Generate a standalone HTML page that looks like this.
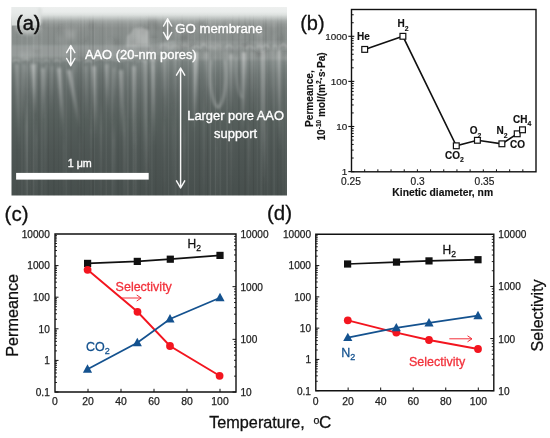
<!DOCTYPE html><html><head><meta charset="utf-8"><style>html,body{margin:0;padding:0;background:#fff;}body{width:550px;height:438px;overflow:hidden;} svg{display:block}</style></head><body>
<svg width="550" height="438" viewBox="0 0 550 438">
<rect width="550" height="438" fill="#fff"/>
<defs>
<linearGradient id="semg" x1="0" y1="7" x2="0" y2="195.5" gradientUnits="userSpaceOnUse">
<stop offset="0.0000" stop-color="#eef0ef"/>
<stop offset="0.0265" stop-color="#e9eceb"/>
<stop offset="0.0424" stop-color="#dce0de"/>
<stop offset="0.0584" stop-color="#c0c5c3"/>
<stop offset="0.0743" stop-color="#a3a8a6"/>
<stop offset="0.0902" stop-color="#939896"/>
<stop offset="0.1114" stop-color="#8a8f8d"/>
<stop offset="0.1751" stop-color="#878d8b"/>
<stop offset="0.2706" stop-color="#8a908e"/>
<stop offset="0.2918" stop-color="#78807e"/>
<stop offset="0.3607" stop-color="#6a7270"/>
<stop offset="0.4668" stop-color="#5e6664"/>
<stop offset="0.5995" stop-color="#555e5b"/>
<stop offset="0.7586" stop-color="#4e5654"/>
<stop offset="0.9973" stop-color="#474f4d"/>
</linearGradient>
<filter id="bl06" x="-50%" y="-10%" width="200%" height="120%"><feGaussianBlur stdDeviation="0.6"/></filter>
<filter id="bl1" x="-50%" y="-10%" width="200%" height="120%"><feGaussianBlur stdDeviation="1.1"/></filter>
<filter id="bl2" x="-50%" y="-50%" width="200%" height="200%"><feGaussianBlur stdDeviation="2"/></filter>
<filter id="bl15" x="-50%" y="-10%" width="200%" height="120%"><feGaussianBlur stdDeviation="1.5"/></filter>
<linearGradient id="wall" x1="0" y1="0" x2="0" y2="1"><stop offset="0" stop-color="#fff" stop-opacity="0.9"/><stop offset="0.5" stop-color="#fff" stop-opacity="0.55"/><stop offset="1" stop-color="#fff" stop-opacity="0"/></linearGradient>
<linearGradient id="strk" x1="0" y1="0" x2="0" y2="1"><stop offset="0" stop-color="#fff" stop-opacity="0"/><stop offset="0.3" stop-color="#fff" stop-opacity="1"/><stop offset="1" stop-color="#fff" stop-opacity="0.3"/></linearGradient>
<linearGradient id="abox" x1="0" y1="0" x2="0" y2="1"><stop offset="0" stop-color="#eef0ef"/><stop offset="0.5" stop-color="#e6e9e8"/><stop offset="1" stop-color="#d6dad8"/></linearGradient>
<linearGradient id="fw" x1="0" y1="14" x2="0" y2="26" gradientUnits="userSpaceOnUse"><stop offset="0" stop-color="#fff" stop-opacity="0"/><stop offset="1" stop-color="#fff"/></linearGradient>
<linearGradient id="fb" x1="0" y1="14" x2="0" y2="26" gradientUnits="userSpaceOnUse"><stop offset="0" stop-color="#000" stop-opacity="0"/><stop offset="1" stop-color="#000"/></linearGradient>
<clipPath id="semclip"><rect x="11.5" y="7" width="275.5" height="188.5"/></clipPath>
</defs>
<rect x="11.5" y="7" width="275.5" height="188.5" fill="url(#semg)"/>
<g clip-path="url(#semclip)">
<g filter="url(#bl2)">
<ellipse cx="136.1" cy="42.2" rx="5.7" ry="3.4" fill="#000" opacity="0.08"/>
<ellipse cx="62.4" cy="40.4" rx="4.5" ry="4.4" fill="#fff" opacity="0.06"/>
<ellipse cx="36.5" cy="51.1" rx="4.8" ry="2.1" fill="#000" opacity="0.10"/>
<ellipse cx="191.7" cy="44.2" rx="2.6" ry="2.0" fill="#000" opacity="0.04"/>
<ellipse cx="63.9" cy="30.7" rx="2.1" ry="3.4" fill="#fff" opacity="0.09"/>
<ellipse cx="154.5" cy="45.1" rx="4.0" ry="4.0" fill="#fff" opacity="0.06"/>
<ellipse cx="286.4" cy="57.8" rx="5.4" ry="4.1" fill="#fff" opacity="0.05"/>
<ellipse cx="91.1" cy="24.5" rx="5.1" ry="3.2" fill="#000" opacity="0.06"/>
<ellipse cx="275.4" cy="52.5" rx="2.0" ry="2.6" fill="#000" opacity="0.07"/>
<ellipse cx="281.6" cy="36.3" rx="2.3" ry="3.9" fill="#000" opacity="0.06"/>
<ellipse cx="35.5" cy="34.0" rx="5.9" ry="4.3" fill="#fff" opacity="0.05"/>
<ellipse cx="39.3" cy="24.2" rx="5.2" ry="2.5" fill="#000" opacity="0.07"/>
<ellipse cx="64.0" cy="48.3" rx="2.5" ry="3.9" fill="#fff" opacity="0.07"/>
<ellipse cx="70.1" cy="31.7" rx="5.9" ry="4.4" fill="#fff" opacity="0.09"/>
<ellipse cx="69.6" cy="36.2" rx="5.4" ry="3.9" fill="#fff" opacity="0.10"/>
<ellipse cx="70.2" cy="31.3" rx="5.1" ry="3.0" fill="#fff" opacity="0.04"/>
<ellipse cx="36.3" cy="43.0" rx="3.0" ry="3.8" fill="#fff" opacity="0.07"/>
<ellipse cx="275.7" cy="39.4" rx="4.3" ry="4.6" fill="#fff" opacity="0.05"/>
<ellipse cx="261.8" cy="51.4" rx="3.0" ry="2.6" fill="#000" opacity="0.10"/>
<ellipse cx="65.7" cy="56.2" rx="5.5" ry="3.8" fill="#fff" opacity="0.05"/>
<ellipse cx="22.2" cy="56.7" rx="3.0" ry="4.1" fill="#fff" opacity="0.09"/>
<ellipse cx="175.8" cy="32.6" rx="2.7" ry="4.2" fill="#fff" opacity="0.05"/>
<ellipse cx="165.6" cy="52.7" rx="4.5" ry="2.8" fill="#000" opacity="0.05"/>
<ellipse cx="16.1" cy="31.7" rx="3.8" ry="2.2" fill="#fff" opacity="0.06"/>
<ellipse cx="169.1" cy="26.7" rx="3.4" ry="4.7" fill="#000" opacity="0.08"/>
<ellipse cx="201.9" cy="43.0" rx="2.6" ry="2.1" fill="#fff" opacity="0.09"/>
<ellipse cx="204.6" cy="56.7" rx="2.1" ry="3.9" fill="#fff" opacity="0.08"/>
<ellipse cx="99.4" cy="58.0" rx="2.3" ry="3.6" fill="#000" opacity="0.09"/>
<ellipse cx="214.6" cy="47.3" rx="5.2" ry="4.7" fill="#fff" opacity="0.08"/>
<ellipse cx="259.7" cy="53.4" rx="3.7" ry="4.4" fill="#000" opacity="0.07"/>
<ellipse cx="183.7" cy="35.8" rx="4.3" ry="3.8" fill="#fff" opacity="0.08"/>
<ellipse cx="285.2" cy="53.7" rx="4.9" ry="3.2" fill="#000" opacity="0.07"/>
<ellipse cx="132.9" cy="52.2" rx="2.3" ry="4.3" fill="#fff" opacity="0.08"/>
<ellipse cx="144.0" cy="30.3" rx="4.8" ry="3.5" fill="#000" opacity="0.10"/>
<ellipse cx="82.0" cy="22.4" rx="3.2" ry="4.0" fill="#fff" opacity="0.05"/>
<ellipse cx="261.0" cy="45.8" rx="3.8" ry="4.7" fill="#fff" opacity="0.08"/>
<ellipse cx="66.2" cy="37.5" rx="5.2" ry="4.7" fill="#000" opacity="0.06"/>
<ellipse cx="172.1" cy="33.4" rx="2.5" ry="3.5" fill="#000" opacity="0.09"/>
<ellipse cx="207.4" cy="56.2" rx="3.1" ry="2.5" fill="#fff" opacity="0.06"/>
<ellipse cx="70.5" cy="36.9" rx="4.5" ry="3.5" fill="#fff" opacity="0.09"/>
<ellipse cx="282.1" cy="38.3" rx="2.3" ry="2.1" fill="#000" opacity="0.04"/>
<ellipse cx="206.7" cy="42.5" rx="3.2" ry="4.4" fill="#fff" opacity="0.05"/>
<ellipse cx="136.8" cy="22.9" rx="5.3" ry="2.7" fill="#fff" opacity="0.04"/>
<ellipse cx="184.8" cy="38.1" rx="4.5" ry="4.0" fill="#000" opacity="0.10"/>
<ellipse cx="200.1" cy="29.2" rx="3.9" ry="2.5" fill="#fff" opacity="0.07"/>
<ellipse cx="208.3" cy="28.4" rx="3.1" ry="3.0" fill="#000" opacity="0.07"/>
<ellipse cx="180.8" cy="49.2" rx="3.6" ry="4.4" fill="#000" opacity="0.05"/>
<ellipse cx="268.4" cy="48.0" rx="2.5" ry="3.4" fill="#000" opacity="0.09"/>
<ellipse cx="115.3" cy="42.5" rx="5.5" ry="4.4" fill="#000" opacity="0.07"/>
<ellipse cx="190.9" cy="29.4" rx="4.9" ry="4.5" fill="#000" opacity="0.08"/>
<ellipse cx="70.3" cy="54.4" rx="5.9" ry="4.9" fill="#000" opacity="0.09"/>
<ellipse cx="99.8" cy="54.8" rx="5.4" ry="3.0" fill="#fff" opacity="0.07"/>
<ellipse cx="163.1" cy="49.7" rx="3.9" ry="2.1" fill="#000" opacity="0.04"/>
<ellipse cx="231.9" cy="28.2" rx="3.3" ry="4.4" fill="#fff" opacity="0.05"/>
<ellipse cx="153.8" cy="48.0" rx="5.4" ry="4.1" fill="#000" opacity="0.07"/>
<ellipse cx="273.0" cy="25.1" rx="2.9" ry="3.6" fill="#fff" opacity="0.08"/>
<ellipse cx="187.5" cy="40.8" rx="5.4" ry="3.7" fill="#fff" opacity="0.06"/>
<ellipse cx="244.4" cy="54.4" rx="2.8" ry="4.6" fill="#000" opacity="0.07"/>
<ellipse cx="169.4" cy="29.2" rx="4.1" ry="3.5" fill="#000" opacity="0.04"/>
<ellipse cx="278.6" cy="40.6" rx="3.6" ry="4.4" fill="#000" opacity="0.07"/>
<ellipse cx="201.9" cy="24.4" rx="4.2" ry="3.2" fill="#000" opacity="0.10"/>
<ellipse cx="85.7" cy="39.0" rx="2.5" ry="3.3" fill="#000" opacity="0.09"/>
<ellipse cx="142.8" cy="33.4" rx="2.8" ry="3.9" fill="#000" opacity="0.05"/>
<ellipse cx="226.2" cy="22.8" rx="2.8" ry="2.7" fill="#000" opacity="0.06"/>
<ellipse cx="109.4" cy="44.3" rx="2.4" ry="4.2" fill="#fff" opacity="0.07"/>
<ellipse cx="80.5" cy="29.1" rx="4.1" ry="3.3" fill="#fff" opacity="0.06"/>
<ellipse cx="157.3" cy="27.8" rx="2.8" ry="3.9" fill="#000" opacity="0.07"/>
<ellipse cx="246.0" cy="44.0" rx="5.4" ry="2.7" fill="#000" opacity="0.09"/>
<ellipse cx="260.2" cy="33.4" rx="3.3" ry="4.8" fill="#fff" opacity="0.10"/>
<ellipse cx="256.0" cy="26.8" rx="3.0" ry="4.2" fill="#fff" opacity="0.05"/>
<ellipse cx="240.8" cy="37.2" rx="5.2" ry="2.4" fill="#fff" opacity="0.08"/>
<ellipse cx="16.4" cy="29.2" rx="4.7" ry="4.7" fill="#000" opacity="0.05"/>
<ellipse cx="150.8" cy="49.3" rx="4.0" ry="4.1" fill="#fff" opacity="0.04"/>
<ellipse cx="40.8" cy="23.3" rx="4.2" ry="3.5" fill="#000" opacity="0.05"/>
<ellipse cx="62.3" cy="29.3" rx="5.4" ry="5.0" fill="#000" opacity="0.05"/>
<ellipse cx="28.6" cy="56.3" rx="3.8" ry="4.3" fill="#fff" opacity="0.07"/>
<ellipse cx="153.5" cy="37.5" rx="4.4" ry="2.0" fill="#000" opacity="0.09"/>
<ellipse cx="61.4" cy="38.3" rx="5.0" ry="3.2" fill="#fff" opacity="0.05"/>
<ellipse cx="152.7" cy="22.6" rx="5.6" ry="4.4" fill="#000" opacity="0.09"/>
<ellipse cx="184.9" cy="36.6" rx="4.4" ry="3.5" fill="#000" opacity="0.09"/>
<ellipse cx="82.7" cy="54.8" rx="5.0" ry="4.3" fill="#000" opacity="0.06"/>
<ellipse cx="258.5" cy="53.7" rx="4.8" ry="4.3" fill="#000" opacity="0.06"/>
<ellipse cx="210.6" cy="24.5" rx="3.4" ry="3.4" fill="#fff" opacity="0.06"/>
<ellipse cx="187.5" cy="44.5" rx="2.9" ry="4.8" fill="#000" opacity="0.06"/>
<ellipse cx="193.3" cy="42.5" rx="4.1" ry="3.2" fill="#000" opacity="0.08"/>
<ellipse cx="204.7" cy="49.4" rx="5.9" ry="2.1" fill="#000" opacity="0.08"/>
<ellipse cx="82.2" cy="36.5" rx="2.2" ry="2.6" fill="#fff" opacity="0.05"/>
<ellipse cx="80.6" cy="54.6" rx="4.2" ry="3.5" fill="#000" opacity="0.07"/>
<ellipse cx="285.7" cy="45.0" rx="5.2" ry="2.2" fill="#000" opacity="0.09"/>
<ellipse cx="23.9" cy="55.5" rx="2.6" ry="3.4" fill="#fff" opacity="0.07"/>
</g>
<path d="M11,45 L150,45 L162,43 L175,40 L175,50 L150,57 L11,57 Z" fill="#b5bbba" opacity="0.3" filter="url(#bl1)"/>
<rect x="160" y="41" width="130" height="9" fill="#fff" opacity="0.07" filter="url(#bl1)"/>
<g filter="url(#bl06)">
<rect x="16.6" y="14" width="0.8" height="182" fill="url(#fb)" opacity="0.05"/>
<rect x="21.2" y="14" width="1.5" height="182" fill="url(#fw)" opacity="0.04"/>
<rect x="26.5" y="14" width="1.4" height="182" fill="url(#fw)" opacity="0.07"/>
<rect x="29.9" y="14" width="0.7" height="182" fill="url(#fw)" opacity="0.03"/>
<rect x="32.7" y="14" width="1.7" height="182" fill="url(#fw)" opacity="0.07"/>
<rect x="38.5" y="14" width="0.8" height="182" fill="url(#fb)" opacity="0.08"/>
<rect x="40.8" y="14" width="1.9" height="182" fill="url(#fw)" opacity="0.05"/>
<rect x="47.7" y="14" width="1.0" height="182" fill="url(#fb)" opacity="0.08"/>
<rect x="53.3" y="14" width="1.3" height="182" fill="url(#fb)" opacity="0.07"/>
<rect x="58.3" y="14" width="0.8" height="182" fill="url(#fb)" opacity="0.05"/>
<rect x="61.4" y="14" width="0.8" height="182" fill="url(#fb)" opacity="0.04"/>
<rect x="65.6" y="14" width="1.6" height="182" fill="url(#fw)" opacity="0.04"/>
<rect x="70.5" y="14" width="1.2" height="182" fill="url(#fb)" opacity="0.06"/>
<rect x="77.5" y="14" width="1.9" height="182" fill="url(#fb)" opacity="0.04"/>
<rect x="80.0" y="14" width="1.9" height="182" fill="url(#fb)" opacity="0.06"/>
<rect x="83.8" y="14" width="1.1" height="182" fill="url(#fb)" opacity="0.06"/>
<rect x="88.8" y="14" width="1.5" height="182" fill="url(#fb)" opacity="0.04"/>
<rect x="92.0" y="14" width="2.0" height="182" fill="url(#fb)" opacity="0.07"/>
<rect x="94.2" y="14" width="0.8" height="182" fill="url(#fw)" opacity="0.05"/>
<rect x="99.4" y="14" width="0.8" height="182" fill="url(#fb)" opacity="0.03"/>
<rect x="101.8" y="14" width="1.6" height="182" fill="url(#fb)" opacity="0.06"/>
<rect x="105.6" y="14" width="1.3" height="182" fill="url(#fw)" opacity="0.05"/>
<rect x="111.4" y="14" width="1.8" height="182" fill="url(#fw)" opacity="0.04"/>
<rect x="117.4" y="14" width="1.5" height="182" fill="url(#fb)" opacity="0.04"/>
<rect x="121.5" y="14" width="1.0" height="182" fill="url(#fb)" opacity="0.05"/>
<rect x="126.8" y="14" width="2.0" height="182" fill="url(#fw)" opacity="0.06"/>
<rect x="132.5" y="14" width="1.9" height="182" fill="url(#fw)" opacity="0.05"/>
<rect x="135.0" y="14" width="1.8" height="182" fill="url(#fw)" opacity="0.03"/>
<rect x="139.8" y="14" width="1.3" height="182" fill="url(#fb)" opacity="0.04"/>
<rect x="145.7" y="14" width="0.8" height="182" fill="url(#fw)" opacity="0.06"/>
<rect x="148.1" y="14" width="1.1" height="182" fill="url(#fb)" opacity="0.06"/>
<rect x="151.5" y="14" width="0.9" height="182" fill="url(#fw)" opacity="0.07"/>
<rect x="155.4" y="14" width="0.9" height="182" fill="url(#fb)" opacity="0.06"/>
<rect x="162.0" y="14" width="1.9" height="182" fill="url(#fb)" opacity="0.05"/>
<rect x="168.0" y="14" width="1.1" height="182" fill="url(#fw)" opacity="0.05"/>
<rect x="174.7" y="14" width="1.9" height="182" fill="url(#fw)" opacity="0.05"/>
<rect x="178.5" y="14" width="1.2" height="182" fill="url(#fw)" opacity="0.05"/>
<rect x="181.5" y="14" width="1.4" height="182" fill="url(#fb)" opacity="0.06"/>
<rect x="187.6" y="14" width="1.4" height="182" fill="url(#fw)" opacity="0.07"/>
<rect x="194.0" y="14" width="1.1" height="182" fill="url(#fw)" opacity="0.06"/>
<rect x="198.8" y="14" width="1.4" height="182" fill="url(#fb)" opacity="0.06"/>
<rect x="204.8" y="14" width="0.8" height="182" fill="url(#fb)" opacity="0.07"/>
<rect x="207.2" y="14" width="0.8" height="182" fill="url(#fb)" opacity="0.07"/>
<rect x="209.6" y="14" width="1.5" height="182" fill="url(#fw)" opacity="0.07"/>
<rect x="214.9" y="14" width="1.0" height="182" fill="url(#fw)" opacity="0.07"/>
<rect x="219.5" y="14" width="1.7" height="182" fill="url(#fw)" opacity="0.05"/>
<rect x="226.3" y="14" width="1.6" height="182" fill="url(#fw)" opacity="0.06"/>
<rect x="231.9" y="14" width="1.6" height="182" fill="url(#fb)" opacity="0.05"/>
<rect x="238.1" y="14" width="1.6" height="182" fill="url(#fb)" opacity="0.07"/>
<rect x="244.2" y="14" width="1.9" height="182" fill="url(#fb)" opacity="0.06"/>
<rect x="248.9" y="14" width="1.6" height="182" fill="url(#fb)" opacity="0.05"/>
<rect x="253.0" y="14" width="0.9" height="182" fill="url(#fb)" opacity="0.08"/>
<rect x="256.8" y="14" width="0.9" height="182" fill="url(#fw)" opacity="0.05"/>
<rect x="260.3" y="14" width="2.0" height="182" fill="url(#fw)" opacity="0.05"/>
<rect x="262.9" y="14" width="1.5" height="182" fill="url(#fb)" opacity="0.04"/>
<rect x="265.2" y="14" width="1.3" height="182" fill="url(#fb)" opacity="0.08"/>
<rect x="267.4" y="14" width="0.8" height="182" fill="url(#fw)" opacity="0.04"/>
<rect x="270.5" y="14" width="1.6" height="182" fill="url(#fb)" opacity="0.04"/>
<rect x="273.5" y="14" width="1.1" height="182" fill="url(#fw)" opacity="0.07"/>
<rect x="277.0" y="14" width="1.4" height="182" fill="url(#fb)" opacity="0.05"/>
<rect x="280.3" y="14" width="1.9" height="182" fill="url(#fb)" opacity="0.05"/>
<rect x="285.1" y="14" width="1.9" height="182" fill="url(#fw)" opacity="0.04"/>
<rect x="287.3" y="14" width="1.9" height="182" fill="url(#fb)" opacity="0.05"/>
</g>
<g filter="url(#bl1)">
<path d="M12.0,62.0 q4.1,-4.1 8.2,0" fill="none" stroke="#fff" stroke-width="1.5" opacity="0.30"/>
<path d="M22.8,61.0 q3.2,-4.9 6.4,0" fill="none" stroke="#fff" stroke-width="1.5" opacity="0.19"/>
<path d="M32.4,62.2 q4.6,-3.6 9.3,0" fill="none" stroke="#fff" stroke-width="1.5" opacity="0.15"/>
<path d="M43.0,62.7 q3.3,-5.1 6.6,0" fill="none" stroke="#fff" stroke-width="1.5" opacity="0.23"/>
<path d="M53.5,62.1 q3.3,-3.6 6.6,0" fill="none" stroke="#fff" stroke-width="1.5" opacity="0.26"/>
<path d="M60.1,62.7 q5.0,-6.3 9.9,0" fill="none" stroke="#fff" stroke-width="1.5" opacity="0.13"/>
<path d="M71.1,61.2 q4.6,-4.9 9.3,0" fill="none" stroke="#fff" stroke-width="1.5" opacity="0.20"/>
<path d="M84.2,62.7 q4.3,-4.2 8.5,0" fill="none" stroke="#fff" stroke-width="1.5" opacity="0.26"/>
<path d="M94.4,61.2 q5.3,-6.3 10.5,0" fill="none" stroke="#fff" stroke-width="1.5" opacity="0.16"/>
<path d="M107.1,61.3 q4.1,-6.3 8.2,0" fill="none" stroke="#fff" stroke-width="1.5" opacity="0.18"/>
<path d="M116.5,61.6 q2.7,-4.9 5.5,0" fill="none" stroke="#fff" stroke-width="1.5" opacity="0.25"/>
<path d="M123.4,61.2 q4.6,-4.6 9.1,0" fill="none" stroke="#fff" stroke-width="1.5" opacity="0.20"/>
<path d="M136.4,62.3 q5.0,-3.0 10.0,0" fill="none" stroke="#fff" stroke-width="1.5" opacity="0.19"/>
<path d="M149.2,62.1 q3.2,-4.8 6.4,0" fill="none" stroke="#fff" stroke-width="1.5" opacity="0.12"/>
<path d="M159.6,47.4 q4.9,-5.5 9.8,0" fill="none" stroke="#fff" stroke-width="1.5" opacity="0.17"/>
<path d="M170.9,47.6 q4.1,-4.3 8.2,0" fill="none" stroke="#fff" stroke-width="1.5" opacity="0.19"/>
<path d="M181.8,47.4 q3.3,-5.9 6.5,0" fill="none" stroke="#fff" stroke-width="1.5" opacity="0.18"/>
<path d="M192.1,48.4 q4.2,-4.3 8.4,0" fill="none" stroke="#fff" stroke-width="1.5" opacity="0.27"/>
<path d="M200.9,47.2 q2.9,-5.7 5.8,0" fill="none" stroke="#fff" stroke-width="1.5" opacity="0.25"/>
<path d="M207.4,48.7 q3.7,-5.4 7.4,0" fill="none" stroke="#fff" stroke-width="1.5" opacity="0.14"/>
<path d="M215.7,47.2 q3.0,-4.6 5.9,0" fill="none" stroke="#fff" stroke-width="1.5" opacity="0.13"/>
<path d="M225.4,48.0 q3.8,-5.6 7.6,0" fill="none" stroke="#fff" stroke-width="1.5" opacity="0.26"/>
<path d="M236.2,47.7 q3.7,-4.6 7.3,0" fill="none" stroke="#fff" stroke-width="1.5" opacity="0.12"/>
<path d="M245.1,49.0 q4.6,-6.2 9.2,0" fill="none" stroke="#fff" stroke-width="1.5" opacity="0.24"/>
<path d="M256.8,47.7 q2.6,-4.4 5.1,0" fill="none" stroke="#fff" stroke-width="1.5" opacity="0.24"/>
<path d="M262.3,48.0 q3.6,-6.2 7.3,0" fill="none" stroke="#fff" stroke-width="1.5" opacity="0.27"/>
<path d="M272.0,48.5 q3.0,-6.6 6.0,0" fill="none" stroke="#fff" stroke-width="1.5" opacity="0.22"/>
<path d="M279.4,47.3 q4.0,-5.9 8.0,0" fill="none" stroke="#fff" stroke-width="1.5" opacity="0.30"/>
</g>
<g filter="url(#bl15)">
<path d="M15.4,64 L18.6,64 L19.8,150 L18.2,150 Z" fill="url(#wall)" opacity="0.33"/>
<path d="M22.7,64 L25.3,64 L23.8,120 L22.2,120 Z" fill="url(#wall)" opacity="0.28"/>
<path d="M30.7,64 L35.3,64 L35.8,115 L34.2,115 Z" fill="url(#wall)" opacity="0.46"/>
<path d="M41.4,68 L44.6,68 L44.8,122 L43.2,122 Z" fill="url(#wall)" opacity="0.39"/>
<path d="M50.7,66 L53.3,66 L51.8,110 L50.2,110 Z" fill="url(#wall)" opacity="0.24"/>
<path d="M57.0,68 L61.0,68 L64.8,138 L63.2,138 Z" fill="url(#wall)" opacity="0.42"/>
<path d="M66.9,70 L71.1,70 L80.8,130 L79.2,130 Z" fill="url(#wall)" opacity="0.44"/>
<path d="M84.7,66 L87.3,66 L87.8,120 L86.2,120 Z" fill="url(#wall)" opacity="0.24"/>
<path d="M92.0,66 L96.0,66 L96.8,138 L95.2,138 Z" fill="url(#wall)" opacity="0.42"/>
<path d="M105.3,64 L108.7,64 L108.8,110 L107.2,110 Z" fill="url(#wall)" opacity="0.35"/>
<path d="M112.7,68 L115.3,68 L112.8,125 L111.2,125 Z" fill="url(#wall)" opacity="0.24"/>
<path d="M119.0,70 L123.0,70 L123.8,140 L122.2,140 Z" fill="url(#wall)" opacity="0.39"/>
<path d="M132.1,66 L135.9,66 L134.8,150 L133.2,150 Z" fill="url(#wall)" opacity="0.39"/>
<path d="M143.3,60 L146.7,60 L146.8,190 L145.2,190 Z" fill="url(#wall)" opacity="0.35"/>
<path d="M151.2,58 L154.8,58 L154.8,146 L153.2,146 Z" fill="url(#wall)" opacity="0.39"/>
<path d="M162.3,56 L165.7,56 L165.8,120 L164.2,120 Z" fill="url(#wall)" opacity="0.33"/>
<path d="M173.7,56 L176.3,56 L174.8,110 L173.2,110 Z" fill="url(#wall)" opacity="0.22"/>
<path d="M193.7,52 L198.3,52 L194.8,132 L193.2,132 Z" fill="url(#wall)" opacity="0.50"/>
<path d="M204.7,52 L207.3,52 L207.8,120 L206.2,120 Z" fill="url(#wall)" opacity="0.24"/>
<path d="M229.2,54 L232.8,54 L231.8,116 L230.2,116 Z" fill="url(#wall)" opacity="0.39"/>
<path d="M241.8,52 L246.2,52 L243.8,136 L242.2,136 Z" fill="url(#wall)" opacity="0.50"/>
<path d="M250.7,52 L253.3,52 L253.8,110 L252.2,110 Z" fill="url(#wall)" opacity="0.24"/>
<path d="M261.1,50 L264.9,50 L264.8,185 L263.2,185 Z" fill="url(#wall)" opacity="0.44"/>
<path d="M270.7,50 L273.3,50 L273.8,120 L272.2,120 Z" fill="url(#wall)" opacity="0.28"/>
<path d="M277.1,50 L280.9,50 L280.8,150 L279.2,150 Z" fill="url(#wall)" opacity="0.42"/>
<path d="M211,60 C209,80 211,102 218,108 C225,102 227,80 225,60" fill="none" stroke="#fff" stroke-width="2.2" opacity="0.33"/>
<path d="M236,58 C235,76 238,92 242,98" fill="none" stroke="#fff" stroke-width="1.6" opacity="0.25"/>
<path d="M26.2,66.2 L28.3,66.2 L28.4,106.0 L27.6,106.0 Z" fill="url(#wall)" opacity="0.12"/>
<path d="M34.9,63.2 L36.8,63.2 L35.3,122.0 L34.5,122.0 Z" fill="url(#wall)" opacity="0.19"/>
<path d="M45.7,64.3 L47.9,64.3 L45.0,100.5 L44.2,100.5 Z" fill="url(#wall)" opacity="0.19"/>
<path d="M58.4,64.8 L59.9,64.8 L62.0,122.8 L61.2,122.8 Z" fill="url(#wall)" opacity="0.20"/>
<path d="M72.7,65.0 L74.7,65.0 L72.8,101.1 L72.0,101.1 Z" fill="url(#wall)" opacity="0.19"/>
<path d="M82.9,64.9 L84.3,64.9 L84.3,136.4 L83.5,136.4 Z" fill="url(#wall)" opacity="0.11"/>
<path d="M90.8,62.9 L92.9,62.9 L93.2,142.3 L92.4,142.3 Z" fill="url(#wall)" opacity="0.13"/>
<path d="M104.3,65.7 L106.1,65.7 L107.4,114.8 L106.6,114.8 Z" fill="url(#wall)" opacity="0.10"/>
<path d="M114.0,64.3 L115.6,64.3 L115.6,101.5 L114.8,101.5 Z" fill="url(#wall)" opacity="0.12"/>
<path d="M126.2,63.3 L127.7,63.3 L128.2,121.7 L127.4,121.7 Z" fill="url(#wall)" opacity="0.10"/>
<path d="M139.4,62.7 L141.2,62.7 L140.6,140.7 L139.8,140.7 Z" fill="url(#wall)" opacity="0.14"/>
<path d="M152.4,65.4 L154.3,65.4 L153.6,133.3 L152.8,133.3 Z" fill="url(#wall)" opacity="0.20"/>
<path d="M167.2,55.3 L168.9,55.3 L168.8,105.7 L168.0,105.7 Z" fill="url(#wall)" opacity="0.19"/>
<path d="M179.2,53.6 L181.3,53.6 L179.6,105.2 L178.8,105.2 Z" fill="url(#wall)" opacity="0.11"/>
<path d="M193.2,55.5 L194.9,55.5 L196.0,122.1 L195.2,122.1 Z" fill="url(#wall)" opacity="0.13"/>
<path d="M206.0,51.3 L207.6,51.3 L207.2,87.6 L206.4,87.6 Z" fill="url(#wall)" opacity="0.14"/>
<path d="M214.5,54.5 L215.9,54.5 L214.5,110.8 L213.7,110.8 Z" fill="url(#wall)" opacity="0.14"/>
<path d="M224.0,51.3 L226.2,51.3 L226.5,126.9 L225.7,126.9 Z" fill="url(#wall)" opacity="0.19"/>
<path d="M235.5,55.0 L237.4,55.0 L237.3,96.1 L236.5,96.1 Z" fill="url(#wall)" opacity="0.19"/>
<path d="M244.4,55.0 L246.1,55.0 L248.4,91.2 L247.6,91.2 Z" fill="url(#wall)" opacity="0.10"/>
<path d="M254.6,52.5 L255.8,52.5 L258.0,98.7 L257.2,98.7 Z" fill="url(#wall)" opacity="0.18"/>
<path d="M265.8,52.8 L267.0,52.8 L264.0,112.1 L263.2,112.1 Z" fill="url(#wall)" opacity="0.19"/>
<path d="M275.8,53.5 L277.9,53.5 L277.1,130.2 L276.3,130.2 Z" fill="url(#wall)" opacity="0.12"/>
<path d="M286.5,55.6 L287.9,55.6 L289.6,130.5 L288.8,130.5 Z" fill="url(#wall)" opacity="0.14"/>
</g>
<g filter="url(#bl1)">
<rect x="25.2" y="96.9" width="2.2" height="99.1" fill="url(#strk)" opacity="0.16"/>
<rect x="35.6" y="115.3" width="1.3" height="80.7" fill="url(#strk)" opacity="0.15"/>
<rect x="44.2" y="94.2" width="2.0" height="101.8" fill="url(#strk)" opacity="0.09"/>
<rect x="63.0" y="124.8" width="2.0" height="71.2" fill="url(#strk)" opacity="0.07"/>
<rect x="79.3" y="127.5" width="1.6" height="68.5" fill="url(#strk)" opacity="0.07"/>
<rect x="90.0" y="102.3" width="2.0" height="93.7" fill="url(#strk)" opacity="0.08"/>
<rect x="100.2" y="99.4" width="1.9" height="96.6" fill="url(#strk)" opacity="0.14"/>
<rect x="112.7" y="116.5" width="2.2" height="79.5" fill="url(#strk)" opacity="0.12"/>
<rect x="123.4" y="102.0" width="2.3" height="94.0" fill="url(#strk)" opacity="0.13"/>
<rect x="134.7" y="115.6" width="1.1" height="80.4" fill="url(#strk)" opacity="0.16"/>
<rect x="148.0" y="111.1" width="1.7" height="84.9" fill="url(#strk)" opacity="0.06"/>
<rect x="163.2" y="101.4" width="1.4" height="94.6" fill="url(#strk)" opacity="0.14"/>
<rect x="172.3" y="101.4" width="2.1" height="94.6" fill="url(#strk)" opacity="0.08"/>
<rect x="183.6" y="111.9" width="1.3" height="84.1" fill="url(#strk)" opacity="0.15"/>
<rect x="203.5" y="91.3" width="1.6" height="104.7" fill="url(#strk)" opacity="0.14"/>
<rect x="216.1" y="127.2" width="1.7" height="68.8" fill="url(#strk)" opacity="0.08"/>
<rect x="230.8" y="115.8" width="1.5" height="80.2" fill="url(#strk)" opacity="0.13"/>
<rect x="248.2" y="110.7" width="1.7" height="85.3" fill="url(#strk)" opacity="0.14"/>
<rect x="264.4" y="110.8" width="2.3" height="85.2" fill="url(#strk)" opacity="0.08"/>
<rect x="281.7" y="96.6" width="1.9" height="99.4" fill="url(#strk)" opacity="0.08"/>
<rect x="295.0" y="120.9" width="2.1" height="75.1" fill="url(#strk)" opacity="0.14"/>
</g>
<g filter="url(#bl1)"><path d="M126,47 L127,36 L131,33 L134,28 L142,27 L149,30 L150,47 Z" fill="#fff" opacity="0.22"/><path d="M136,44 L137,30 L142,28 L148,31 L148,44 Z" fill="#fff" opacity="0.15"/></g>
<rect x="5" y="0" width="35.5" height="25.5" fill="url(#abox)"/>
<ellipse cx="28" cy="27" rx="12" ry="7" fill="#d0d4d2" opacity="0.8" filter="url(#bl2)"/>
<rect x="38" y="8" width="4" height="16" fill="#d8dcda" opacity="0.6" filter="url(#bl1)"/>
</g>
<rect x="16.1" y="172.9" width="132.6" height="6.7" fill="#fff"/>
<text x="67.8" y="166.7" style="font-family:'Liberation Sans', Arial, sans-serif;fill:#fff;stroke:#fff;stroke-width:0.35;font-size:10.7px">1 μm</text>
<text x="175.3" y="32.8" style="font-family:'Liberation Sans', Arial, sans-serif;fill:#fff;stroke:#fff;stroke-width:0.35;font-size:13.2px">GO membrane</text>
<text x="84.9" y="59.4" style="font-family:'Liberation Sans', Arial, sans-serif;fill:#fff;stroke:#fff;stroke-width:0.35;font-size:12.9px">AAO (20-nm pores)</text>
<text x="235.6" y="120.4" text-anchor="middle" style="font-family:'Liberation Sans', Arial, sans-serif;fill:#fff;stroke:#fff;stroke-width:0.35;font-size:12.9px">Larger pore AAO</text>
<text x="235.6" y="138.2" text-anchor="middle" style="font-family:'Liberation Sans', Arial, sans-serif;fill:#fff;stroke:#fff;stroke-width:0.35;font-size:12.9px">support</text>
<text x="16" y="30" style="font-family:'Liberation Sans', Arial, sans-serif;fill:#111;font-size:20px;stroke:#111;stroke-width:0.45">(a)</text>
<g fill="none" stroke="#fff" stroke-width="1.45" stroke-linecap="round" stroke-linejoin="round" opacity="0.95"><path d="M70.75,45.5 V65.7 M66.65,52.7 L70.75,45.5 L74.85,52.7 M66.65,58.5 L70.75,65.7 L74.85,58.5"/></g>
<g fill="none" stroke="#fff" stroke-width="1.45" stroke-linecap="round" stroke-linejoin="round" opacity="0.95"><path d="M167.6,18.8 V39.6 M163.5,26.0 L167.6,18.8 L171.7,26.0 M163.5,32.4 L167.6,39.6 L171.7,32.4"/></g>
<g fill="none" stroke="#fff" stroke-width="1.45" stroke-linecap="round" stroke-linejoin="round" opacity="0.95"><path d="M180.6,68 V188 M176.5,75.2 L180.6,68 L184.7,75.2 M176.5,180.8 L180.6,188 L184.7,180.8"/></g>
<rect x="351.5" y="9.5" width="184.5" height="162.3" fill="none" stroke="#111" stroke-width="1.4"/>
<line x1="348.30" y1="171.60" x2="354.30" y2="171.60" stroke="#111" stroke-width="1.1"/>
<line x1="351.50" y1="158.02" x2="353.70" y2="158.02" stroke="#111" stroke-width="1.0"/>
<line x1="351.50" y1="150.08" x2="353.70" y2="150.08" stroke="#111" stroke-width="1.0"/>
<line x1="351.50" y1="144.45" x2="353.70" y2="144.45" stroke="#111" stroke-width="1.0"/>
<line x1="351.50" y1="140.08" x2="353.70" y2="140.08" stroke="#111" stroke-width="1.0"/>
<line x1="351.50" y1="136.51" x2="353.70" y2="136.51" stroke="#111" stroke-width="1.0"/>
<line x1="351.50" y1="133.49" x2="353.70" y2="133.49" stroke="#111" stroke-width="1.0"/>
<line x1="351.50" y1="130.87" x2="353.70" y2="130.87" stroke="#111" stroke-width="1.0"/>
<line x1="351.50" y1="128.56" x2="353.70" y2="128.56" stroke="#111" stroke-width="1.0"/>
<line x1="348.30" y1="126.50" x2="354.30" y2="126.50" stroke="#111" stroke-width="1.1"/>
<line x1="351.50" y1="112.92" x2="353.70" y2="112.92" stroke="#111" stroke-width="1.0"/>
<line x1="351.50" y1="104.98" x2="353.70" y2="104.98" stroke="#111" stroke-width="1.0"/>
<line x1="351.50" y1="99.35" x2="353.70" y2="99.35" stroke="#111" stroke-width="1.0"/>
<line x1="351.50" y1="94.98" x2="353.70" y2="94.98" stroke="#111" stroke-width="1.0"/>
<line x1="351.50" y1="91.41" x2="353.70" y2="91.41" stroke="#111" stroke-width="1.0"/>
<line x1="351.50" y1="88.39" x2="353.70" y2="88.39" stroke="#111" stroke-width="1.0"/>
<line x1="351.50" y1="85.77" x2="353.70" y2="85.77" stroke="#111" stroke-width="1.0"/>
<line x1="351.50" y1="83.46" x2="353.70" y2="83.46" stroke="#111" stroke-width="1.0"/>
<line x1="348.30" y1="81.40" x2="354.30" y2="81.40" stroke="#111" stroke-width="1.1"/>
<line x1="351.50" y1="67.82" x2="353.70" y2="67.82" stroke="#111" stroke-width="1.0"/>
<line x1="351.50" y1="59.88" x2="353.70" y2="59.88" stroke="#111" stroke-width="1.0"/>
<line x1="351.50" y1="54.25" x2="353.70" y2="54.25" stroke="#111" stroke-width="1.0"/>
<line x1="351.50" y1="49.88" x2="353.70" y2="49.88" stroke="#111" stroke-width="1.0"/>
<line x1="351.50" y1="46.31" x2="353.70" y2="46.31" stroke="#111" stroke-width="1.0"/>
<line x1="351.50" y1="43.29" x2="353.70" y2="43.29" stroke="#111" stroke-width="1.0"/>
<line x1="351.50" y1="40.67" x2="353.70" y2="40.67" stroke="#111" stroke-width="1.0"/>
<line x1="351.50" y1="38.36" x2="353.70" y2="38.36" stroke="#111" stroke-width="1.0"/>
<line x1="348.30" y1="36.30" x2="354.30" y2="36.30" stroke="#111" stroke-width="1.1"/>
<line x1="351.50" y1="22.72" x2="353.70" y2="22.72" stroke="#111" stroke-width="1.0"/>
<line x1="351.50" y1="14.78" x2="353.70" y2="14.78" stroke="#111" stroke-width="1.0"/>
<line x1="364.68" y1="171.80" x2="364.68" y2="169.30" stroke="#111" stroke-width="1.0"/>
<line x1="377.86" y1="171.80" x2="377.86" y2="169.30" stroke="#111" stroke-width="1.0"/>
<line x1="391.04" y1="171.80" x2="391.04" y2="169.30" stroke="#111" stroke-width="1.0"/>
<line x1="404.22" y1="171.80" x2="404.22" y2="169.30" stroke="#111" stroke-width="1.0"/>
<line x1="417.40" y1="171.80" x2="417.40" y2="169.30" stroke="#111" stroke-width="1.0"/>
<line x1="430.58" y1="171.80" x2="430.58" y2="169.30" stroke="#111" stroke-width="1.0"/>
<line x1="443.76" y1="171.80" x2="443.76" y2="169.30" stroke="#111" stroke-width="1.0"/>
<line x1="456.94" y1="171.80" x2="456.94" y2="169.30" stroke="#111" stroke-width="1.0"/>
<line x1="470.12" y1="171.80" x2="470.12" y2="169.30" stroke="#111" stroke-width="1.0"/>
<line x1="483.30" y1="171.80" x2="483.30" y2="169.30" stroke="#111" stroke-width="1.0"/>
<line x1="496.48" y1="171.80" x2="496.48" y2="169.30" stroke="#111" stroke-width="1.0"/>
<line x1="509.66" y1="171.80" x2="509.66" y2="169.30" stroke="#111" stroke-width="1.0"/>
<line x1="522.84" y1="171.80" x2="522.84" y2="169.30" stroke="#111" stroke-width="1.0"/>
<text x="347.20" y="39.80" text-anchor="end" style="font-family:'Liberation Sans', Arial, sans-serif;font-size:9.9px;font-weight:normal;fill:#222" stroke="#222" stroke-width="0.2">1000</text>
<text x="347.20" y="84.90" text-anchor="end" style="font-family:'Liberation Sans', Arial, sans-serif;font-size:9.9px;font-weight:normal;fill:#222" stroke="#222" stroke-width="0.2">100</text>
<text x="347.20" y="130.00" text-anchor="end" style="font-family:'Liberation Sans', Arial, sans-serif;font-size:9.9px;font-weight:normal;fill:#222" stroke="#222" stroke-width="0.2">10</text>
<text x="347.20" y="175.10" text-anchor="end" style="font-family:'Liberation Sans', Arial, sans-serif;font-size:9.9px;font-weight:normal;fill:#222" stroke="#222" stroke-width="0.2">1</text>
<text x="350.90" y="185.20" text-anchor="middle" style="font-family:'Liberation Sans', Arial, sans-serif;font-size:10.2px;font-weight:normal;fill:#222" stroke="#222" stroke-width="0.2">0.25</text>
<text x="417.60" y="185.20" text-anchor="middle" style="font-family:'Liberation Sans', Arial, sans-serif;font-size:10.2px;font-weight:normal;fill:#222" stroke="#222" stroke-width="0.2">0.3</text>
<text x="484.40" y="185.20" text-anchor="middle" style="font-family:'Liberation Sans', Arial, sans-serif;font-size:10.2px;font-weight:normal;fill:#222" stroke="#222" stroke-width="0.2">0.35</text>
<text x="442.70" y="195.60" text-anchor="middle" style="font-family:'Liberation Sans', Arial, sans-serif;font-size:10.3px;font-weight:bold;fill:#111;stroke:#111;stroke-width:0.15">Kinetic diameter, nm</text>
<g transform="translate(312.6,98.6) rotate(-90)"><text x="0.00" y="0.00" text-anchor="middle" style="font-family:'Liberation Sans', Arial, sans-serif;font-size:10.1px;font-weight:bold;fill:#111;stroke:#111;stroke-width:0.15">Permeance,</text></g>
<g transform="translate(324.8,96.4) rotate(-90)"><text x="0" y="0" text-anchor="middle" style="font-family:'Liberation Sans', Arial, sans-serif;font-size:10.1px;font-weight:bold;fill:#111;stroke:#111;stroke-width:0.15">10<tspan dy="-3.5" font-size="6.5px">-10</tspan><tspan dy="3.5"> mol/(m</tspan><tspan dy="-3.5" font-size="6.5px">2</tspan><tspan dy="3.5">·s·Pa)</tspan></text></g>
<path d="M364.7,49.4 L402.9,36.3 L456.3,145.8 L477.4,140.3 L501.9,143.8 L517.2,133.8 L522.5,129.8" fill="none" stroke="#111" stroke-width="1.6"/>
<rect x="361.8" y="46.5" width="5.8" height="5.8" fill="#fff" stroke="#111" stroke-width="1.2"/>
<rect x="400.0" y="33.4" width="5.8" height="5.8" fill="#fff" stroke="#111" stroke-width="1.2"/>
<rect x="453.40000000000003" y="142.9" width="5.8" height="5.8" fill="#fff" stroke="#111" stroke-width="1.2"/>
<rect x="474.5" y="137.4" width="5.8" height="5.8" fill="#fff" stroke="#111" stroke-width="1.2"/>
<rect x="499.0" y="140.9" width="5.8" height="5.8" fill="#fff" stroke="#111" stroke-width="1.2"/>
<rect x="514.3000000000001" y="130.9" width="5.8" height="5.8" fill="#fff" stroke="#111" stroke-width="1.2"/>
<rect x="519.6" y="126.9" width="5.8" height="5.8" fill="#fff" stroke="#111" stroke-width="1.2"/>
<text x="357.10" y="39.70" text-anchor="start" style="font-family:'Liberation Sans', Arial, sans-serif;font-size:10px;font-weight:bold;fill:#111;stroke:#111;stroke-width:0.15">He</text>
<text x="397.4" y="27.4" text-anchor="start" style="font-family:'Liberation Sans', Arial, sans-serif;font-size:10px;font-weight:bold;fill:#111;stroke:#111;stroke-width:0.15">H<tspan dy="3.1" font-size="6.8px">2</tspan></text>
<text x="445" y="159.1" text-anchor="start" style="font-family:'Liberation Sans', Arial, sans-serif;font-size:10px;font-weight:bold;fill:#111;stroke:#111;stroke-width:0.15">CO<tspan dy="3.1" font-size="6.8px">2</tspan></text>
<text x="469.8" y="134.4" text-anchor="start" style="font-family:'Liberation Sans', Arial, sans-serif;font-size:10px;font-weight:bold;fill:#111;stroke:#111;stroke-width:0.15">O<tspan dy="3.1" font-size="6.8px">2</tspan></text>
<text x="496.4" y="134.4" text-anchor="start" style="font-family:'Liberation Sans', Arial, sans-serif;font-size:10px;font-weight:bold;fill:#111;stroke:#111;stroke-width:0.15">N<tspan dy="3.1" font-size="6.8px">2</tspan></text>
<text x="510.00" y="148.30" text-anchor="start" style="font-family:'Liberation Sans', Arial, sans-serif;font-size:10px;font-weight:bold;fill:#111;stroke:#111;stroke-width:0.15">CO</text>
<text x="513" y="122.8" text-anchor="start" style="font-family:'Liberation Sans', Arial, sans-serif;font-size:10px;font-weight:bold;fill:#111;stroke:#111;stroke-width:0.15">CH<tspan dy="3.1" font-size="6.8px">4</tspan></text>
<text x="300.20" y="30.20" text-anchor="start" style="font-family:'Liberation Sans', Arial, sans-serif;font-size:20px;font-weight:normal;fill:#111;stroke:#111;stroke-width:0.28">(b)</text>
<path d="M55,234 H236 V392 H55 Z" fill="none" stroke="#111" stroke-width="1.4"/>
<line x1="55.00" y1="392.00" x2="58.50" y2="392.00" stroke="#111" stroke-width="1.0"/>
<line x1="55.00" y1="382.49" x2="57.00" y2="382.49" stroke="#111" stroke-width="0.9"/>
<line x1="55.00" y1="376.92" x2="57.00" y2="376.92" stroke="#111" stroke-width="0.9"/>
<line x1="55.00" y1="372.97" x2="57.00" y2="372.97" stroke="#111" stroke-width="0.9"/>
<line x1="55.00" y1="369.91" x2="57.00" y2="369.91" stroke="#111" stroke-width="0.9"/>
<line x1="55.00" y1="367.41" x2="57.00" y2="367.41" stroke="#111" stroke-width="0.9"/>
<line x1="55.00" y1="365.29" x2="57.00" y2="365.29" stroke="#111" stroke-width="0.9"/>
<line x1="55.00" y1="363.46" x2="57.00" y2="363.46" stroke="#111" stroke-width="0.9"/>
<line x1="55.00" y1="361.85" x2="57.00" y2="361.85" stroke="#111" stroke-width="0.9"/>
<line x1="55.00" y1="360.40" x2="58.50" y2="360.40" stroke="#111" stroke-width="1.0"/>
<line x1="55.00" y1="350.89" x2="57.00" y2="350.89" stroke="#111" stroke-width="0.9"/>
<line x1="55.00" y1="345.32" x2="57.00" y2="345.32" stroke="#111" stroke-width="0.9"/>
<line x1="55.00" y1="341.37" x2="57.00" y2="341.37" stroke="#111" stroke-width="0.9"/>
<line x1="55.00" y1="338.31" x2="57.00" y2="338.31" stroke="#111" stroke-width="0.9"/>
<line x1="55.00" y1="335.81" x2="57.00" y2="335.81" stroke="#111" stroke-width="0.9"/>
<line x1="55.00" y1="333.69" x2="57.00" y2="333.69" stroke="#111" stroke-width="0.9"/>
<line x1="55.00" y1="331.86" x2="57.00" y2="331.86" stroke="#111" stroke-width="0.9"/>
<line x1="55.00" y1="330.25" x2="57.00" y2="330.25" stroke="#111" stroke-width="0.9"/>
<line x1="55.00" y1="328.80" x2="58.50" y2="328.80" stroke="#111" stroke-width="1.0"/>
<line x1="55.00" y1="319.29" x2="57.00" y2="319.29" stroke="#111" stroke-width="0.9"/>
<line x1="55.00" y1="313.72" x2="57.00" y2="313.72" stroke="#111" stroke-width="0.9"/>
<line x1="55.00" y1="309.77" x2="57.00" y2="309.77" stroke="#111" stroke-width="0.9"/>
<line x1="55.00" y1="306.71" x2="57.00" y2="306.71" stroke="#111" stroke-width="0.9"/>
<line x1="55.00" y1="304.21" x2="57.00" y2="304.21" stroke="#111" stroke-width="0.9"/>
<line x1="55.00" y1="302.09" x2="57.00" y2="302.09" stroke="#111" stroke-width="0.9"/>
<line x1="55.00" y1="300.26" x2="57.00" y2="300.26" stroke="#111" stroke-width="0.9"/>
<line x1="55.00" y1="298.65" x2="57.00" y2="298.65" stroke="#111" stroke-width="0.9"/>
<line x1="55.00" y1="297.20" x2="58.50" y2="297.20" stroke="#111" stroke-width="1.0"/>
<line x1="55.00" y1="287.69" x2="57.00" y2="287.69" stroke="#111" stroke-width="0.9"/>
<line x1="55.00" y1="282.12" x2="57.00" y2="282.12" stroke="#111" stroke-width="0.9"/>
<line x1="55.00" y1="278.17" x2="57.00" y2="278.17" stroke="#111" stroke-width="0.9"/>
<line x1="55.00" y1="275.11" x2="57.00" y2="275.11" stroke="#111" stroke-width="0.9"/>
<line x1="55.00" y1="272.61" x2="57.00" y2="272.61" stroke="#111" stroke-width="0.9"/>
<line x1="55.00" y1="270.49" x2="57.00" y2="270.49" stroke="#111" stroke-width="0.9"/>
<line x1="55.00" y1="268.66" x2="57.00" y2="268.66" stroke="#111" stroke-width="0.9"/>
<line x1="55.00" y1="267.05" x2="57.00" y2="267.05" stroke="#111" stroke-width="0.9"/>
<line x1="55.00" y1="265.60" x2="58.50" y2="265.60" stroke="#111" stroke-width="1.0"/>
<line x1="55.00" y1="256.09" x2="57.00" y2="256.09" stroke="#111" stroke-width="0.9"/>
<line x1="55.00" y1="250.52" x2="57.00" y2="250.52" stroke="#111" stroke-width="0.9"/>
<line x1="55.00" y1="246.57" x2="57.00" y2="246.57" stroke="#111" stroke-width="0.9"/>
<line x1="55.00" y1="243.51" x2="57.00" y2="243.51" stroke="#111" stroke-width="0.9"/>
<line x1="55.00" y1="241.01" x2="57.00" y2="241.01" stroke="#111" stroke-width="0.9"/>
<line x1="55.00" y1="238.89" x2="57.00" y2="238.89" stroke="#111" stroke-width="0.9"/>
<line x1="55.00" y1="237.06" x2="57.00" y2="237.06" stroke="#111" stroke-width="0.9"/>
<line x1="55.00" y1="235.45" x2="57.00" y2="235.45" stroke="#111" stroke-width="0.9"/>
<line x1="236.00" y1="392.00" x2="232.50" y2="392.00" stroke="#111" stroke-width="1.0"/>
<line x1="236.00" y1="376.15" x2="234.00" y2="376.15" stroke="#111" stroke-width="0.9"/>
<line x1="236.00" y1="366.87" x2="234.00" y2="366.87" stroke="#111" stroke-width="0.9"/>
<line x1="236.00" y1="360.29" x2="234.00" y2="360.29" stroke="#111" stroke-width="0.9"/>
<line x1="236.00" y1="355.19" x2="234.00" y2="355.19" stroke="#111" stroke-width="0.9"/>
<line x1="236.00" y1="351.02" x2="234.00" y2="351.02" stroke="#111" stroke-width="0.9"/>
<line x1="236.00" y1="347.49" x2="234.00" y2="347.49" stroke="#111" stroke-width="0.9"/>
<line x1="236.00" y1="344.44" x2="234.00" y2="344.44" stroke="#111" stroke-width="0.9"/>
<line x1="236.00" y1="341.74" x2="234.00" y2="341.74" stroke="#111" stroke-width="0.9"/>
<line x1="236.00" y1="339.33" x2="232.50" y2="339.33" stroke="#111" stroke-width="1.0"/>
<line x1="236.00" y1="323.48" x2="234.00" y2="323.48" stroke="#111" stroke-width="0.9"/>
<line x1="236.00" y1="314.20" x2="234.00" y2="314.20" stroke="#111" stroke-width="0.9"/>
<line x1="236.00" y1="307.62" x2="234.00" y2="307.62" stroke="#111" stroke-width="0.9"/>
<line x1="236.00" y1="302.52" x2="234.00" y2="302.52" stroke="#111" stroke-width="0.9"/>
<line x1="236.00" y1="298.35" x2="234.00" y2="298.35" stroke="#111" stroke-width="0.9"/>
<line x1="236.00" y1="294.82" x2="234.00" y2="294.82" stroke="#111" stroke-width="0.9"/>
<line x1="236.00" y1="291.77" x2="234.00" y2="291.77" stroke="#111" stroke-width="0.9"/>
<line x1="236.00" y1="289.08" x2="234.00" y2="289.08" stroke="#111" stroke-width="0.9"/>
<line x1="236.00" y1="286.67" x2="232.50" y2="286.67" stroke="#111" stroke-width="1.0"/>
<line x1="236.00" y1="270.81" x2="234.00" y2="270.81" stroke="#111" stroke-width="0.9"/>
<line x1="236.00" y1="261.54" x2="234.00" y2="261.54" stroke="#111" stroke-width="0.9"/>
<line x1="236.00" y1="254.96" x2="234.00" y2="254.96" stroke="#111" stroke-width="0.9"/>
<line x1="236.00" y1="249.85" x2="234.00" y2="249.85" stroke="#111" stroke-width="0.9"/>
<line x1="236.00" y1="245.68" x2="234.00" y2="245.68" stroke="#111" stroke-width="0.9"/>
<line x1="236.00" y1="242.16" x2="234.00" y2="242.16" stroke="#111" stroke-width="0.9"/>
<line x1="236.00" y1="239.10" x2="234.00" y2="239.10" stroke="#111" stroke-width="0.9"/>
<line x1="236.00" y1="236.41" x2="234.00" y2="236.41" stroke="#111" stroke-width="0.9"/>
<line x1="88.00" y1="392.00" x2="88.00" y2="388.80" stroke="#111" stroke-width="1.0"/>
<line x1="121.00" y1="392.00" x2="121.00" y2="388.80" stroke="#111" stroke-width="1.0"/>
<line x1="154.00" y1="392.00" x2="154.00" y2="388.80" stroke="#111" stroke-width="1.0"/>
<line x1="187.00" y1="392.00" x2="187.00" y2="388.80" stroke="#111" stroke-width="1.0"/>
<line x1="220.00" y1="392.00" x2="220.00" y2="388.80" stroke="#111" stroke-width="1.0"/>
<text x="49.80" y="395.80" text-anchor="end" style="font-family:'Liberation Sans', Arial, sans-serif;font-size:10.1px;font-weight:normal;fill:#222" stroke="#222" stroke-width="0.25">0.1</text>
<text x="49.80" y="364.20" text-anchor="end" style="font-family:'Liberation Sans', Arial, sans-serif;font-size:10.1px;font-weight:normal;fill:#222" stroke="#222" stroke-width="0.25">1</text>
<text x="49.80" y="332.60" text-anchor="end" style="font-family:'Liberation Sans', Arial, sans-serif;font-size:10.1px;font-weight:normal;fill:#222" stroke="#222" stroke-width="0.25">10</text>
<text x="49.80" y="301.00" text-anchor="end" style="font-family:'Liberation Sans', Arial, sans-serif;font-size:10.1px;font-weight:normal;fill:#222" stroke="#222" stroke-width="0.25">100</text>
<text x="49.80" y="269.40" text-anchor="end" style="font-family:'Liberation Sans', Arial, sans-serif;font-size:10.1px;font-weight:normal;fill:#222" stroke="#222" stroke-width="0.25">1000</text>
<text x="49.80" y="237.80" text-anchor="end" style="font-family:'Liberation Sans', Arial, sans-serif;font-size:10.1px;font-weight:normal;fill:#222" stroke="#222" stroke-width="0.25">10000</text>
<text x="240.50" y="396.00" text-anchor="start" style="font-family:'Liberation Sans', Arial, sans-serif;font-size:10.1px;font-weight:normal;fill:#222" stroke="#222" stroke-width="0.25">10</text>
<text x="240.50" y="343.33" text-anchor="start" style="font-family:'Liberation Sans', Arial, sans-serif;font-size:10.1px;font-weight:normal;fill:#222" stroke="#222" stroke-width="0.25">100</text>
<text x="240.50" y="290.67" text-anchor="start" style="font-family:'Liberation Sans', Arial, sans-serif;font-size:10.1px;font-weight:normal;fill:#222" stroke="#222" stroke-width="0.25">1000</text>
<text x="240.50" y="238.00" text-anchor="start" style="font-family:'Liberation Sans', Arial, sans-serif;font-size:10.1px;font-weight:normal;fill:#222" stroke="#222" stroke-width="0.25">10000</text>
<text x="55.00" y="404.50" text-anchor="middle" style="font-family:'Liberation Sans', Arial, sans-serif;font-size:10.4px;font-weight:normal;fill:#222" stroke="#222" stroke-width="0.25">0</text>
<text x="88.00" y="404.50" text-anchor="middle" style="font-family:'Liberation Sans', Arial, sans-serif;font-size:10.4px;font-weight:normal;fill:#222" stroke="#222" stroke-width="0.25">20</text>
<text x="121.00" y="404.50" text-anchor="middle" style="font-family:'Liberation Sans', Arial, sans-serif;font-size:10.4px;font-weight:normal;fill:#222" stroke="#222" stroke-width="0.25">40</text>
<text x="154.00" y="404.50" text-anchor="middle" style="font-family:'Liberation Sans', Arial, sans-serif;font-size:10.4px;font-weight:normal;fill:#222" stroke="#222" stroke-width="0.25">60</text>
<text x="187.00" y="404.50" text-anchor="middle" style="font-family:'Liberation Sans', Arial, sans-serif;font-size:10.4px;font-weight:normal;fill:#222" stroke="#222" stroke-width="0.25">80</text>
<text x="220.00" y="404.50" text-anchor="middle" style="font-family:'Liberation Sans', Arial, sans-serif;font-size:10.4px;font-weight:normal;fill:#222" stroke="#222" stroke-width="0.25">100</text>
<path d="M87.6,263.4 L137.3,261.4 L170.3,259.2 L220,255.4" fill="none" stroke="#111" stroke-width="1.75"/>
<rect x="84.0" y="259.79999999999995" width="7.2" height="7.2" fill="#111"/>
<rect x="133.70000000000002" y="257.79999999999995" width="7.2" height="7.2" fill="#111"/>
<rect x="166.70000000000002" y="255.6" width="7.2" height="7.2" fill="#111"/>
<rect x="216.4" y="251.8" width="7.2" height="7.2" fill="#111"/>
<path d="M87.6,269.8 L137.5,311.8 L170,346 L219.6,375.8" fill="none" stroke="#f3151f" stroke-width="1.9"/>
<circle cx="87.6" cy="269.8" r="3.9" fill="#f3151f"/>
<circle cx="137.5" cy="311.8" r="3.9" fill="#f3151f"/>
<circle cx="170" cy="346" r="3.9" fill="#f3151f"/>
<circle cx="219.6" cy="375.8" r="3.9" fill="#f3151f"/>
<path d="M87.5,369.2 L137.3,342.7 L170,319 L220,297.7" fill="none" stroke="#14528f" stroke-width="1.75"/>
<path d="M87.5,364.3 L92.1,372.7 L82.9,372.7 Z" fill="#14528f"/>
<path d="M137.3,337.8 L141.9,346.2 L132.70000000000002,346.2 Z" fill="#14528f"/>
<path d="M170,314.1 L174.6,322.5 L165.4,322.5 Z" fill="#14528f"/>
<path d="M220,292.8 L224.6,301.2 L215.4,301.2 Z" fill="#14528f"/>
<text x="187.6" y="247.8" style="font-family:'Liberation Sans', Arial, sans-serif;font-size:12px;fill:#111;stroke:#111;stroke-width:0.28">H<tspan dy="3.5" font-size="8.6px">2</tspan></text>
<text x="115.60" y="291.40" text-anchor="start" style="font-family:'Liberation Sans', Arial, sans-serif;font-size:12.5px;font-weight:normal;fill:#f2303a;stroke:#f2303a;stroke-width:0.28">Selectivity</text>
<path d="M121.8,298.0 H141.2 M136.7,295.0 L141.2,298.0 L136.7,301.0" fill="none" stroke="#f2303a" stroke-width="1"/>
<text x="85.9" y="351" style="font-family:'Liberation Sans', Arial, sans-serif;font-size:12.5px;fill:#14528f;stroke:#14528f;stroke-width:0.28">CO<tspan dy="2.8" font-size="9.0px">2</tspan></text>
<text x="4.60" y="221.00" text-anchor="start" style="font-family:'Liberation Sans', Arial, sans-serif;font-size:20.5px;font-weight:normal;fill:#111;stroke:#111;stroke-width:0.28">(c)</text>
<path d="M315.8,234.3 H493.8 V390.7 H315.8 Z" fill="none" stroke="#111" stroke-width="1.4"/>
<line x1="315.80" y1="390.70" x2="319.30" y2="390.70" stroke="#111" stroke-width="1.0"/>
<line x1="315.80" y1="381.28" x2="317.80" y2="381.28" stroke="#111" stroke-width="0.9"/>
<line x1="315.80" y1="375.78" x2="317.80" y2="375.78" stroke="#111" stroke-width="0.9"/>
<line x1="315.80" y1="371.87" x2="317.80" y2="371.87" stroke="#111" stroke-width="0.9"/>
<line x1="315.80" y1="368.84" x2="317.80" y2="368.84" stroke="#111" stroke-width="0.9"/>
<line x1="315.80" y1="366.36" x2="317.80" y2="366.36" stroke="#111" stroke-width="0.9"/>
<line x1="315.80" y1="364.27" x2="317.80" y2="364.27" stroke="#111" stroke-width="0.9"/>
<line x1="315.80" y1="362.45" x2="317.80" y2="362.45" stroke="#111" stroke-width="0.9"/>
<line x1="315.80" y1="360.85" x2="317.80" y2="360.85" stroke="#111" stroke-width="0.9"/>
<line x1="315.80" y1="359.42" x2="319.30" y2="359.42" stroke="#111" stroke-width="1.0"/>
<line x1="315.80" y1="350.00" x2="317.80" y2="350.00" stroke="#111" stroke-width="0.9"/>
<line x1="315.80" y1="344.50" x2="317.80" y2="344.50" stroke="#111" stroke-width="0.9"/>
<line x1="315.80" y1="340.59" x2="317.80" y2="340.59" stroke="#111" stroke-width="0.9"/>
<line x1="315.80" y1="337.56" x2="317.80" y2="337.56" stroke="#111" stroke-width="0.9"/>
<line x1="315.80" y1="335.08" x2="317.80" y2="335.08" stroke="#111" stroke-width="0.9"/>
<line x1="315.80" y1="332.99" x2="317.80" y2="332.99" stroke="#111" stroke-width="0.9"/>
<line x1="315.80" y1="331.17" x2="317.80" y2="331.17" stroke="#111" stroke-width="0.9"/>
<line x1="315.80" y1="329.57" x2="317.80" y2="329.57" stroke="#111" stroke-width="0.9"/>
<line x1="315.80" y1="328.14" x2="319.30" y2="328.14" stroke="#111" stroke-width="1.0"/>
<line x1="315.80" y1="318.72" x2="317.80" y2="318.72" stroke="#111" stroke-width="0.9"/>
<line x1="315.80" y1="313.22" x2="317.80" y2="313.22" stroke="#111" stroke-width="0.9"/>
<line x1="315.80" y1="309.31" x2="317.80" y2="309.31" stroke="#111" stroke-width="0.9"/>
<line x1="315.80" y1="306.28" x2="317.80" y2="306.28" stroke="#111" stroke-width="0.9"/>
<line x1="315.80" y1="303.80" x2="317.80" y2="303.80" stroke="#111" stroke-width="0.9"/>
<line x1="315.80" y1="301.71" x2="317.80" y2="301.71" stroke="#111" stroke-width="0.9"/>
<line x1="315.80" y1="299.89" x2="317.80" y2="299.89" stroke="#111" stroke-width="0.9"/>
<line x1="315.80" y1="298.29" x2="317.80" y2="298.29" stroke="#111" stroke-width="0.9"/>
<line x1="315.80" y1="296.86" x2="319.30" y2="296.86" stroke="#111" stroke-width="1.0"/>
<line x1="315.80" y1="287.44" x2="317.80" y2="287.44" stroke="#111" stroke-width="0.9"/>
<line x1="315.80" y1="281.94" x2="317.80" y2="281.94" stroke="#111" stroke-width="0.9"/>
<line x1="315.80" y1="278.03" x2="317.80" y2="278.03" stroke="#111" stroke-width="0.9"/>
<line x1="315.80" y1="275.00" x2="317.80" y2="275.00" stroke="#111" stroke-width="0.9"/>
<line x1="315.80" y1="272.52" x2="317.80" y2="272.52" stroke="#111" stroke-width="0.9"/>
<line x1="315.80" y1="270.43" x2="317.80" y2="270.43" stroke="#111" stroke-width="0.9"/>
<line x1="315.80" y1="268.61" x2="317.80" y2="268.61" stroke="#111" stroke-width="0.9"/>
<line x1="315.80" y1="267.01" x2="317.80" y2="267.01" stroke="#111" stroke-width="0.9"/>
<line x1="315.80" y1="265.58" x2="319.30" y2="265.58" stroke="#111" stroke-width="1.0"/>
<line x1="315.80" y1="256.16" x2="317.80" y2="256.16" stroke="#111" stroke-width="0.9"/>
<line x1="315.80" y1="250.66" x2="317.80" y2="250.66" stroke="#111" stroke-width="0.9"/>
<line x1="315.80" y1="246.75" x2="317.80" y2="246.75" stroke="#111" stroke-width="0.9"/>
<line x1="315.80" y1="243.72" x2="317.80" y2="243.72" stroke="#111" stroke-width="0.9"/>
<line x1="315.80" y1="241.24" x2="317.80" y2="241.24" stroke="#111" stroke-width="0.9"/>
<line x1="315.80" y1="239.15" x2="317.80" y2="239.15" stroke="#111" stroke-width="0.9"/>
<line x1="315.80" y1="237.33" x2="317.80" y2="237.33" stroke="#111" stroke-width="0.9"/>
<line x1="315.80" y1="235.73" x2="317.80" y2="235.73" stroke="#111" stroke-width="0.9"/>
<line x1="493.80" y1="390.70" x2="490.30" y2="390.70" stroke="#111" stroke-width="1.0"/>
<line x1="493.80" y1="375.01" x2="491.80" y2="375.01" stroke="#111" stroke-width="0.9"/>
<line x1="493.80" y1="365.83" x2="491.80" y2="365.83" stroke="#111" stroke-width="0.9"/>
<line x1="493.80" y1="359.31" x2="491.80" y2="359.31" stroke="#111" stroke-width="0.9"/>
<line x1="493.80" y1="354.26" x2="491.80" y2="354.26" stroke="#111" stroke-width="0.9"/>
<line x1="493.80" y1="350.13" x2="491.80" y2="350.13" stroke="#111" stroke-width="0.9"/>
<line x1="493.80" y1="346.64" x2="491.80" y2="346.64" stroke="#111" stroke-width="0.9"/>
<line x1="493.80" y1="343.62" x2="491.80" y2="343.62" stroke="#111" stroke-width="0.9"/>
<line x1="493.80" y1="340.95" x2="491.80" y2="340.95" stroke="#111" stroke-width="0.9"/>
<line x1="493.80" y1="338.57" x2="490.30" y2="338.57" stroke="#111" stroke-width="1.0"/>
<line x1="493.80" y1="322.87" x2="491.80" y2="322.87" stroke="#111" stroke-width="0.9"/>
<line x1="493.80" y1="313.69" x2="491.80" y2="313.69" stroke="#111" stroke-width="0.9"/>
<line x1="493.80" y1="307.18" x2="491.80" y2="307.18" stroke="#111" stroke-width="0.9"/>
<line x1="493.80" y1="302.13" x2="491.80" y2="302.13" stroke="#111" stroke-width="0.9"/>
<line x1="493.80" y1="298.00" x2="491.80" y2="298.00" stroke="#111" stroke-width="0.9"/>
<line x1="493.80" y1="294.51" x2="491.80" y2="294.51" stroke="#111" stroke-width="0.9"/>
<line x1="493.80" y1="291.49" x2="491.80" y2="291.49" stroke="#111" stroke-width="0.9"/>
<line x1="493.80" y1="288.82" x2="491.80" y2="288.82" stroke="#111" stroke-width="0.9"/>
<line x1="493.80" y1="286.43" x2="490.30" y2="286.43" stroke="#111" stroke-width="1.0"/>
<line x1="493.80" y1="270.74" x2="491.80" y2="270.74" stroke="#111" stroke-width="0.9"/>
<line x1="493.80" y1="261.56" x2="491.80" y2="261.56" stroke="#111" stroke-width="0.9"/>
<line x1="493.80" y1="255.05" x2="491.80" y2="255.05" stroke="#111" stroke-width="0.9"/>
<line x1="493.80" y1="249.99" x2="491.80" y2="249.99" stroke="#111" stroke-width="0.9"/>
<line x1="493.80" y1="245.87" x2="491.80" y2="245.87" stroke="#111" stroke-width="0.9"/>
<line x1="493.80" y1="242.38" x2="491.80" y2="242.38" stroke="#111" stroke-width="0.9"/>
<line x1="493.80" y1="239.35" x2="491.80" y2="239.35" stroke="#111" stroke-width="0.9"/>
<line x1="493.80" y1="236.69" x2="491.80" y2="236.69" stroke="#111" stroke-width="0.9"/>
<line x1="348.14" y1="390.70" x2="348.14" y2="387.50" stroke="#111" stroke-width="1.0"/>
<line x1="380.68" y1="390.70" x2="380.68" y2="387.50" stroke="#111" stroke-width="1.0"/>
<line x1="413.22" y1="390.70" x2="413.22" y2="387.50" stroke="#111" stroke-width="1.0"/>
<line x1="445.76" y1="390.70" x2="445.76" y2="387.50" stroke="#111" stroke-width="1.0"/>
<line x1="478.30" y1="390.70" x2="478.30" y2="387.50" stroke="#111" stroke-width="1.0"/>
<text x="311.00" y="394.50" text-anchor="end" style="font-family:'Liberation Sans', Arial, sans-serif;font-size:10.1px;font-weight:normal;fill:#222" stroke="#222" stroke-width="0.25">0.1</text>
<text x="311.00" y="363.22" text-anchor="end" style="font-family:'Liberation Sans', Arial, sans-serif;font-size:10.1px;font-weight:normal;fill:#222" stroke="#222" stroke-width="0.25">1</text>
<text x="311.00" y="331.94" text-anchor="end" style="font-family:'Liberation Sans', Arial, sans-serif;font-size:10.1px;font-weight:normal;fill:#222" stroke="#222" stroke-width="0.25">10</text>
<text x="311.00" y="300.66" text-anchor="end" style="font-family:'Liberation Sans', Arial, sans-serif;font-size:10.1px;font-weight:normal;fill:#222" stroke="#222" stroke-width="0.25">100</text>
<text x="311.00" y="269.38" text-anchor="end" style="font-family:'Liberation Sans', Arial, sans-serif;font-size:10.1px;font-weight:normal;fill:#222" stroke="#222" stroke-width="0.25">1000</text>
<text x="311.00" y="238.10" text-anchor="end" style="font-family:'Liberation Sans', Arial, sans-serif;font-size:10.1px;font-weight:normal;fill:#222" stroke="#222" stroke-width="0.25">10000</text>
<text x="498.30" y="394.70" text-anchor="start" style="font-family:'Liberation Sans', Arial, sans-serif;font-size:10.1px;font-weight:normal;fill:#222" stroke="#222" stroke-width="0.25">10</text>
<text x="498.30" y="342.57" text-anchor="start" style="font-family:'Liberation Sans', Arial, sans-serif;font-size:10.1px;font-weight:normal;fill:#222" stroke="#222" stroke-width="0.25">100</text>
<text x="498.30" y="290.43" text-anchor="start" style="font-family:'Liberation Sans', Arial, sans-serif;font-size:10.1px;font-weight:normal;fill:#222" stroke="#222" stroke-width="0.25">1000</text>
<text x="498.30" y="238.30" text-anchor="start" style="font-family:'Liberation Sans', Arial, sans-serif;font-size:10.1px;font-weight:normal;fill:#222" stroke="#222" stroke-width="0.25">10000</text>
<text x="315.60" y="404.50" text-anchor="middle" style="font-family:'Liberation Sans', Arial, sans-serif;font-size:10.4px;font-weight:normal;fill:#222" stroke="#222" stroke-width="0.25">0</text>
<text x="348.14" y="404.50" text-anchor="middle" style="font-family:'Liberation Sans', Arial, sans-serif;font-size:10.4px;font-weight:normal;fill:#222" stroke="#222" stroke-width="0.25">20</text>
<text x="380.68" y="404.50" text-anchor="middle" style="font-family:'Liberation Sans', Arial, sans-serif;font-size:10.4px;font-weight:normal;fill:#222" stroke="#222" stroke-width="0.25">40</text>
<text x="413.22" y="404.50" text-anchor="middle" style="font-family:'Liberation Sans', Arial, sans-serif;font-size:10.4px;font-weight:normal;fill:#222" stroke="#222" stroke-width="0.25">60</text>
<text x="445.76" y="404.50" text-anchor="middle" style="font-family:'Liberation Sans', Arial, sans-serif;font-size:10.4px;font-weight:normal;fill:#222" stroke="#222" stroke-width="0.25">80</text>
<text x="478.30" y="404.50" text-anchor="middle" style="font-family:'Liberation Sans', Arial, sans-serif;font-size:10.4px;font-weight:normal;fill:#222" stroke="#222" stroke-width="0.25">100</text>
<path d="M347.6,264 L396.5,262.1 L429,260.9 L478,259.7" fill="none" stroke="#111" stroke-width="1.75"/>
<rect x="344.0" y="260.4" width="7.2" height="7.2" fill="#111"/>
<rect x="392.9" y="258.5" width="7.2" height="7.2" fill="#111"/>
<rect x="425.4" y="257.29999999999995" width="7.2" height="7.2" fill="#111"/>
<rect x="474.4" y="256.09999999999997" width="7.2" height="7.2" fill="#111"/>
<path d="M347.8,320.3 L396.3,332.6 L429,340 L478,349" fill="none" stroke="#f3151f" stroke-width="1.9"/>
<circle cx="347.8" cy="320.3" r="3.9" fill="#f3151f"/>
<circle cx="396.3" cy="332.6" r="3.9" fill="#f3151f"/>
<circle cx="429" cy="340" r="3.9" fill="#f3151f"/>
<circle cx="478" cy="349" r="3.9" fill="#f3151f"/>
<path d="M347.8,337.6 L396.3,327.8 L429,322.9 L478,315.7" fill="none" stroke="#14528f" stroke-width="1.75"/>
<path d="M347.8,332.70000000000005 L352.40000000000003,341.1 L343.2,341.1 Z" fill="#14528f"/>
<path d="M396.3,322.90000000000003 L400.90000000000003,331.3 L391.7,331.3 Z" fill="#14528f"/>
<path d="M429,318.0 L433.6,326.4 L424.4,326.4 Z" fill="#14528f"/>
<path d="M478,310.8 L482.6,319.2 L473.4,319.2 Z" fill="#14528f"/>
<text x="442.5" y="254.0" style="font-family:'Liberation Sans', Arial, sans-serif;font-size:12px;fill:#111;stroke:#111;stroke-width:0.28">H<tspan dy="3.0" font-size="8.6px">2</tspan></text>
<text x="409.00" y="366.10" text-anchor="start" style="font-family:'Liberation Sans', Arial, sans-serif;font-size:12.5px;font-weight:normal;fill:#f2303a;stroke:#f2303a;stroke-width:0.28">Selectivity</text>
<path d="M449.3,338.8 H472 M467.5,335.8 L472,338.8 L467.5,341.8" fill="none" stroke="#f2303a" stroke-width="1"/>
<text x="341.3" y="357.3" style="font-family:'Liberation Sans', Arial, sans-serif;font-size:12.5px;fill:#14528f;stroke:#14528f;stroke-width:0.28">N<tspan dy="2.8" font-size="9.0px">2</tspan></text>
<text x="267.00" y="220.00" text-anchor="start" style="font-family:'Liberation Sans', Arial, sans-serif;font-size:20.5px;font-weight:normal;fill:#111;stroke:#111;stroke-width:0.28">(d)</text>
<g transform="translate(17.8,315.4) rotate(-90)"><text x="0.00" y="0.00" text-anchor="middle" style="font-family:'Liberation Sans', Arial, sans-serif;font-size:16.2px;font-weight:normal;fill:#111;stroke:#111;stroke-width:0.28">Permeance</text></g>
<g transform="translate(543.3,315.4) rotate(-90)"><text x="0.00" y="0.00" text-anchor="middle" style="font-family:'Liberation Sans', Arial, sans-serif;font-size:16px;font-weight:normal;fill:#111;stroke:#111;stroke-width:0.28">Selectivity</text></g>
<text transform="translate(209.2,428.1) scale(0.955,1)" x="0" y="0" style="font-family:'Liberation Sans', Arial, sans-serif;font-size:17px;fill:#111;stroke:#111;stroke-width:0.3">Temperature,</text>
<text x="313.5" y="423.9" style="font-family:'Liberation Sans', Arial, sans-serif;font-size:10.6px;fill:#111;stroke:#111;stroke-width:0.25">o</text>
<text x="318.9" y="428.1" style="font-family:'Liberation Sans', Arial, sans-serif;font-size:17px;fill:#111;stroke:#111;stroke-width:0.3">C</text>
</svg></body></html>
